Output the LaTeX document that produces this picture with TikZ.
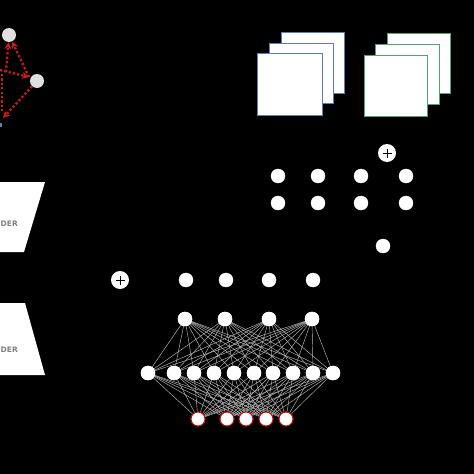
\documentclass[tikz,border=0pt]{standalone}
\usepackage{fontspec}
\setsansfont{DejaVu Sans}
\usetikzlibrary{arrows.meta}
\definecolor{sheetblue}{rgb}{0.35,0.5,0.72}
\definecolor{sheetgreen}{rgb}{0.3,0.65,0.45}
\definecolor{arrowred}{rgb}{0.8,0.1,0.12}
\begin{document}
\begin{tikzpicture}[x=1pt,y=-1pt,
  neuron/.style={circle,fill=white,draw=white,minimum size=14pt,inner sep=0pt},
  outneuron/.style={circle,fill=white,draw=red!75!black,line width=0.9pt,minimum size=14pt,inner sep=0pt},
  plusnode/.style={circle,fill=white,minimum size=18pt,inner sep=0pt},
  graynode/.style={circle,fill=black!12,minimum size=14pt,inner sep=0pt},
  link/.style={draw=white!72!black,line width=0.45pt},
  redline/.style={draw=arrowred,line width=2.4pt,dash pattern=on 2.2pt off 2.2pt},
  redarrow/.style={redline,-{Stealth[length=7pt,width=7pt]}},
  sheetb/.style={draw=sheetblue,fill=white,line width=0.9pt},
  sheetg/.style={draw=sheetgreen,fill=white,line width=0.9pt},
  trap/.style={fill=white,draw=none},
  lbl/.style={font=\sffamily\bfseries\fontsize{7.5}{8}\selectfont,text=black!50,inner sep=0pt}]
\fill[black] (0,0) rectangle (474,474);
\useasboundingbox (0,0) rectangle (474,474);

% top-left graph fragment
\node[graynode] (g1) at (9,35) {};
\node[graynode] (g2) at (37,81) {};
\coordinate (a1) at (6,72);
\coordinate (a2) at (0,70);
\coordinate (a3) at (29,77);
\coordinate (a4) at (3,118);
\coordinate (a5) at (2,113);
\coordinate (a6) at (2,74);
\draw[redarrow] (a1) -- (g1);
\draw[redarrow] (a3) -- (g1);
\draw[redarrow] (a2) -- (a3);
\draw[redarrow] (g2) -- (a4);
\draw[redline] (a6) -- (a5);
\fill[sheetblue] (0,123) rectangle (2,127);

% stacked sheets
\draw[sheetb] (281,32) rectangle (344,93);
\draw[sheetb] (269,43) rectangle (333,103);
\draw[sheetb] (257,53) rectangle (322,115);
\draw[sheetg] (387,33) rectangle (450,93);
\draw[sheetg] (375,44) rectangle (439,104);
\draw[sheetg] (364,55) rectangle (427,116);

% encoder / decoder trapezoids
\fill[trap] (-5,182) -- (45,182) -- (24,252) -- (-5,252) -- cycle;
\node[lbl,anchor=west] (enc) at (0.5,223.5) {DER};
\fill[trap] (-5,303) -- (25,303) -- (45,375) -- (-5,375) -- cycle;
\node[lbl,anchor=west] (dec) at (0.5,350) {DER};

% plus nodes
\node[plusnode] (p1) at (387,153) {};
\draw[line width=1pt] ([xshift=-4.5pt]p1.center) -- ([xshift=4.5pt]p1.center);
\draw[line width=1pt] ([yshift=-4.5pt]p1.center) -- ([yshift=4.5pt]p1.center);
\node[plusnode] (p2) at (120,280) {};
\draw[line width=1pt] ([xshift=-4.5pt]p2.center) -- ([xshift=4.5pt]p2.center);
\draw[line width=1pt] ([yshift=-4.5pt]p2.center) -- ([yshift=4.5pt]p2.center);

% right grid of neurons
\foreach \x [count=\i] in {278,318,361,406} {
  \node[neuron] (r1\i) at (\x,176) {};
  \node[neuron] (r2\i) at (\x,203) {};
}
\node[neuron] (s1) at (383,246) {};

% network
\foreach \x [count=\i] in {186,226,269,313} {
  \node[neuron] (t\i) at (\x,280) {};
}
\foreach \x [count=\i] in {185,225,269,312} {
  \node[neuron] (u\i) at (\x,319) {};
}
\foreach \x [count=\i] in {148,174,194,214,234,254,273,293,313,333} {
  \node[neuron] (m\i) at (\x,373) {};
}
\foreach \x [count=\i] in {198,227,246,266,286} {
  \node[outneuron] (o\i) at (\x,419) {};
}
\foreach \i in {1,...,4} {
  \foreach \j in {1,...,10} {
    \draw[link] (u\i) -- (m\j);
  }
}
\foreach \j in {1,...,10} {
  \foreach \k in {1,...,5} {
    \draw[link] (m\j) -- (o\k);
  }
}
% redraw nodes on top
\foreach \i in {1,...,4} {\node[neuron] at (u\i) {};}
\foreach \j in {1,...,10} {\node[neuron] at (m\j) {};}
\foreach \k in {1,...,5} {\node[outneuron] at (o\k) {};}
\end{tikzpicture}
\end{document}
